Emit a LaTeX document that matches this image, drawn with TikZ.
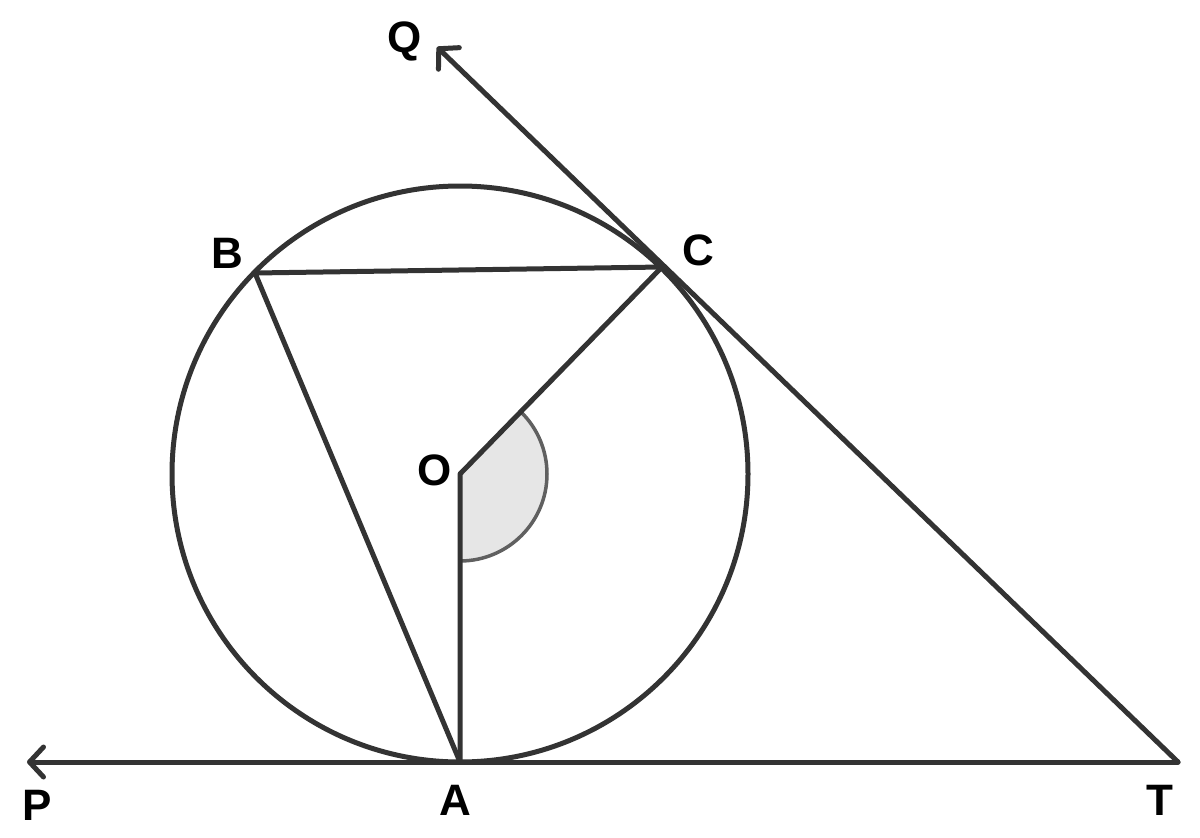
\documentclass[tikz,border=0pt]{standalone}
\usepackage{fontspec}
\setmainfont{Liberation Sans}
\usetikzlibrary{arrows.meta}
\definecolor{ink}{HTML}{333333}
\definecolor{arcfill}{HTML}{E6E6E6}
\definecolor{arcline}{HTML}{606060}
\begin{document}
\begin{tikzpicture}[x=1pt,y=-1pt,
  geo/.style={draw=ink,line width=5pt,line cap=round,line join=round},
  tip/.style={-{Straight Barb[length=14pt,width=30pt,round]}},
  lbl/.style={font=\fontsize{44}{44}\selectfont\bfseries,text=black,inner sep=0pt}]
\useasboundingbox (0,0) rectangle (1200,838);
\coordinate (O) at (460,474);
\coordinate (A) at (460,762);
\coordinate (B) at (255,273);
\coordinate (C) at (662,267);
\coordinate (T) at (1178,762);
\coordinate (P) at (27,762);
\coordinate (Q) at (437,47);
% angle sector
\fill[arcfill] (O) -- ++(0,87) arc[start angle=90,end angle=-45.4,radius=87] -- cycle;
\draw[arcline,line width=3.5pt] (O) ++(0,87) arc[start angle=90,end angle=-45.4,radius=87];
% circle
\draw[geo] (O) circle[radius=288];
% lines
\draw[geo,tip] (T) -- (P);
\draw[geo,tip] (T) -- (Q);
\draw[geo] (A) -- (O) -- (C);
\draw[geo] (A) -- (B) -- (C);
% labels
\node[lbl] (lQ) at (405,41) {Q};
\node[lbl] (lP) at (37,805) {P};
\node[lbl] (lA) at (455,800) {A};
\node[lbl] (lT) at (1160,800) {T};
\node[lbl] (lB) at (227,253) {B};
\node[lbl] (lC) at (698,250) {C};
\node[lbl] (lO) at (435,470) {O};
\end{tikzpicture}
\end{document}
